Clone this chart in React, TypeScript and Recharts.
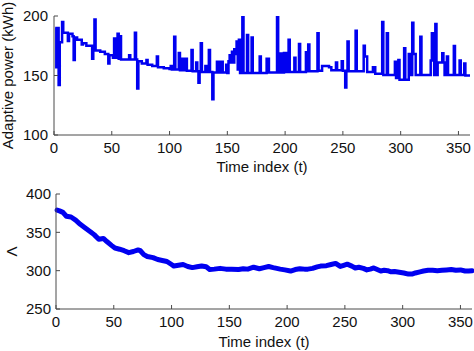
import React from 'react';
import { LineChart, Line, XAxis, YAxis } from 'recharts';

const timeTicks = [0, 50, 100, 150, 200, 250, 300, 350];
const powerTicks = [100, 150, 200];
const lambdaTicks = [250, 300, 350, 400];

// Adaptive power (kWh): [time index, value] (held until next entry)
const powerSeries: [number, number][] = [
  [1, 190], [2, 157], [3, 190], [4, 142], [5, 178], [7, 195], [8, 186], [12, 179], [13, 185],
  [16, 183], [17, 163], [18, 182], [20, 180], [24, 176], [25, 177], [28, 175], [33, 164],
  [34, 171], [35, 197], [36, 171], [40, 170], [44, 168], [47, 160], [48, 167], [51, 165],
  [52, 181], [53, 165], [55, 185], [56, 164], [57, 183], [58, 163.5], [65, 167], [66, 163.5],
  [70, 186], [71, 163.5], [72, 139], [73, 162], [76, 160], [80, 163], [81, 159], [85, 158],
  [89, 166], [90, 157], [95, 156], [100, 155.5], [101, 158], [102, 155], [104, 182.5], [105, 155],
  [108, 169], [109, 154.5], [111, 164], [112, 154.5], [114, 164], [115, 154], [119, 171.4],
  [120, 153.5], [123, 161], [124, 153.5], [125, 144], [126, 153.5], [127, 177], [128, 153],
  [131, 158], [132, 153], [134, 171.4], [135, 153], [137, 130], [138, 152.5], [141, 161.6],
  [142, 152.5], [143, 161.6], [144, 152.5], [145, 161.6], [146, 152.5], [149, 159], [150, 152],
  [151, 162], [152, 167], [153, 161], [154, 170], [155, 161], [156, 172], [157, 168], [158, 178.5],
  [159, 155], [160, 180], [161, 152], [163, 200], [164, 152], [167, 184], [168, 152], [171, 182],
  [172, 152], [178, 166], [179, 152], [184, 164], [186, 152.5], [193, 200], [194, 152.5],
  [196, 168.5], [197, 152.5], [199, 169], [201, 153], [203, 180], [204, 153], [208, 165],
  [209, 153], [212, 176.5], [213, 153], [218, 169.6], [219, 153.5], [220, 176], [221, 153.5],
  [228, 185.4], [229, 154], [232, 158], [238, 157], [240, 154.5], [244, 161], [245, 154.5],
  [249, 162], [250, 154], [252, 140], [253, 154], [254, 178.5], [255, 153.5], [261, 187.7],
  [262, 153.5], [268, 175], [269, 166], [271, 153], [276, 157], [278, 151.5], [284, 195],
  [285, 150.5], [288, 185.4], [289, 150.5], [295, 161.6], [296, 148], [298, 163], [299, 146.5],
  [303, 173], [304, 146.5], [307, 168], [308, 150.5], [310, 194.4], [311, 168], [313, 150.5],
  [317, 182.6], [318, 150.5], [326, 162.6], [327, 185.4], [329, 150.5], [330, 193.3],
  [331, 150.5], [332, 161], [336, 168.6], [337, 161], [338, 150.5], [340, 166], [341, 150.5],
  [346, 174.8], [347, 150.5], [351, 162.6], [352, 150.5], [355, 160], [356, 150], [360, 150],
];

// Lambda: [time index, value]
const lambdaSeries: [number, number][] = [
  [1, 379], [3, 378], [6, 376], [9, 371], [13, 370], [17, 366], [21, 360.5], [25, 356],
  [30, 350.5], [33, 347], [37, 341], [41, 342], [44, 338], [48, 333], [51, 329.5], [55, 328],
  [59, 326], [63, 323.5], [67, 325], [71, 327], [73, 326], [76, 321], [79, 318.5], [84, 317],
  [88, 314.5], [93, 313], [96, 312], [100, 308], [102, 306], [106, 307], [110, 308], [114, 305.5],
  [118, 304], [122, 305], [126, 306], [130, 305], [133, 301.5], [137, 302], [142, 303],
  [147, 302], [152, 302], [158, 301.5], [162, 302.5], [166, 302], [171, 304.5], [176, 302.5],
  [180, 304], [184, 305.5], [188, 304], [194, 302], [198, 301], [203, 299.5], [207, 301.5],
  [211, 302.5], [215, 302], [218, 302], [222, 303], [226, 305], [229, 306], [234, 306.5],
  [238, 308], [242, 309.5], [246, 305.5], [249, 307], [252, 308.5], [256, 306], [259, 303.5],
  [262, 304.5], [266, 303], [269, 301], [272, 302], [275, 303.5], [278, 301.5], [281, 299.5],
  [284, 300.5], [287, 300], [290, 298.5], [293, 299], [297, 298], [301, 297], [305, 295.5],
  [308, 295.5], [311, 297], [315, 298.5], [318, 299.5], [322, 300.5], [326, 300.5], [330, 300],
  [334, 300.5], [338, 301], [342, 301.5], [346, 300.5], [350, 301], [354, 299.5], [357, 299.5],
  [360, 300],
];

const powerData = powerSeries.map(([t, v]) => ({ t, v }));
const lambdaData = lambdaSeries.map(([t, v]) => ({ t, v }));

const FONT = 'Liberation Sans, Arial, Helvetica, sans-serif';
const AXIS = '#4a4a4a';
const BLUE = '#0000f0';
const FS = 15;
const tickStyle = { fontSize: FS, fill: '#111', fontFamily: FONT };
const textProps = { fontSize: FS, fill: '#111', fontFamily: FONT };

function XTitle({ cx, y }: { cx: number; y: number }) {
  return (
    <text x={cx} y={y} textAnchor="middle" {...textProps}>
      Time index (t)
    </text>
  );
}

function YTitle({ x, cy, text }: { x: number; cy: number; text: string }) {
  return (
    <text x={x} y={cy} textAnchor="middle" transform={`rotate(-90, ${x}, ${cy})`} {...textProps}>
      {text}
    </text>
  );
}

export default function App() {
  return (
    <div style={{ position: 'absolute', left: 0, top: 0, width: 474, height: 351, background: '#fff' }}>
      <LineChart width={474} height={178} data={powerData} margin={{ top: 16, right: 4, bottom: 18, left: 0 }}>
        <XAxis
          dataKey="t"
          type="number"
          domain={[0, 360]}
          ticks={timeTicks}
          interval={0}
          height={25}
          tickSize={-4}
          tickMargin={11}
          tick={tickStyle}
          axisLine={{ stroke: AXIS }}
          tickLine={{ stroke: AXIS }}
          label={{ content: () => <XTitle cx={262} y={172} /> }}
        />
        <XAxis
          xAxisId="top"
          orientation="top"
          type="number"
          domain={[0, 360]}
          ticks={timeTicks}
          interval={0}
          height={0}
          tickSize={-4}
          tick={false}
          axisLine={{ stroke: AXIS }}
          tickLine={{ stroke: AXIS }}
          allowDataOverflow
        />
        <YAxis
          type="number"
          domain={[100, 200]}
          ticks={powerTicks}
          interval={0}
          width={54}
          tickSize={-4}
          tickMargin={10}
          tick={tickStyle}
          axisLine={{ stroke: AXIS }}
          tickLine={{ stroke: AXIS }}
          allowDataOverflow
          label={{ content: () => <YTitle x={13} cy={75.5} text="Adaptive power (kWh)" /> }}
        />
        <YAxis
          yAxisId="right"
          orientation="right"
          type="number"
          domain={[100, 200]}
          ticks={powerTicks}
          interval={0}
          width={0}
          tickSize={-4}
          tick={false}
          axisLine={{ stroke: AXIS }}
          tickLine={{ stroke: AXIS }}
          allowDataOverflow
        />
        <Line
          type="stepAfter"
          dataKey="v"
          stroke={BLUE}
          strokeWidth={2.5}
          dot={false}
          activeDot={false}
          isAnimationActive={false}
        />
      </LineChart>
      <LineChart width={474} height={173} data={lambdaData} margin={{ top: 16, right: 2, bottom: 17, left: 0 }}>
        <XAxis
          dataKey="t"
          type="number"
          domain={[0, 360]}
          ticks={timeTicks}
          interval={0}
          height={25}
          tickSize={-4}
          tickMargin={11}
          tick={tickStyle}
          axisLine={{ stroke: AXIS }}
          tickLine={{ stroke: AXIS }}
          label={{ content: () => <XTitle cx={264} y={169} /> }}
        />
        <XAxis
          xAxisId="top"
          orientation="top"
          type="number"
          domain={[0, 360]}
          ticks={timeTicks}
          interval={0}
          height={0}
          tickSize={-4}
          tick={false}
          axisLine={{ stroke: AXIS }}
          tickLine={{ stroke: AXIS }}
          allowDataOverflow
        />
        <YAxis
          type="number"
          domain={[250, 400]}
          ticks={lambdaTicks}
          interval={0}
          width={56}
          tickSize={-4}
          tickMargin={9}
          tick={tickStyle}
          axisLine={{ stroke: AXIS }}
          tickLine={{ stroke: AXIS }}
          allowDataOverflow
          label={{ content: () => <YTitle x={17} cy={73.5} text="Λ" /> }}
        />
        <YAxis
          yAxisId="right"
          orientation="right"
          type="number"
          domain={[250, 400]}
          ticks={lambdaTicks}
          interval={0}
          width={0}
          tickSize={-4}
          tick={false}
          axisLine={{ stroke: AXIS }}
          tickLine={{ stroke: AXIS }}
          allowDataOverflow
        />
        <Line
          type="linear"
          dataKey="v"
          stroke={BLUE}
          strokeWidth={5}
          strokeLinejoin="round"
          strokeLinecap="round"
          dot={false}
          activeDot={false}
          isAnimationActive={false}
        />
      </LineChart>
    </div>
  );
}
